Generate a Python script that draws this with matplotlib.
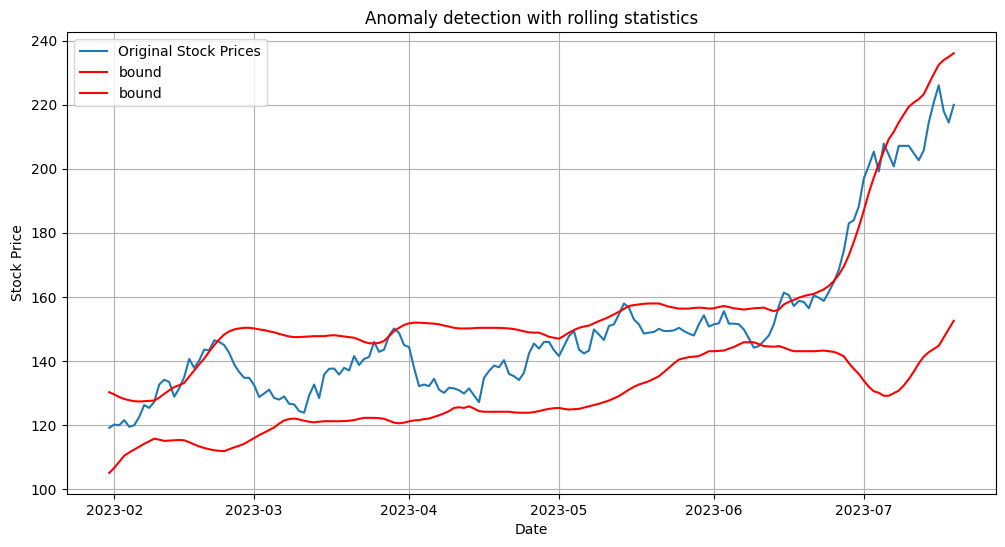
import matplotlib
matplotlib.use("Agg")
import matplotlib.pyplot as plt
import pandas as pd

# daily closing prices, 2023-01-31 .. 2023-07-19
start_date = "2023-01-31"

prices = [
    119.2, 120.2, 120.0, 121.6, 119.5, 120.0, 122.6, 126.3, 125.4, 127.3,
    132.7, 134.2, 133.5, 128.9, 131.5, 135.0, 140.7, 137.9, 140.2, 143.6,
    143.4, 146.5, 146.0, 145.0, 142.6, 139.0, 136.6, 134.8, 134.8, 132.5,
    128.8, 129.9, 131.1, 128.5, 128.0, 129.0, 126.7, 126.5, 124.4, 123.9,
    129.3, 132.7, 128.5, 135.8, 137.6, 137.7, 135.8, 137.9, 137.1, 141.6,
    138.8, 140.7, 141.3, 146.0, 142.9, 143.6, 148.0, 150.2, 148.8, 145.0,
    144.4, 137.9, 132.2, 132.7, 132.2, 134.5, 131.1, 130.1, 131.7, 131.5,
    130.9, 129.9, 131.5, 129.3, 127.2, 134.8, 136.9, 138.6, 138.1, 140.3,
    136.0, 135.3, 134.1, 136.4, 142.4, 145.5, 143.9, 146.0, 146.0, 143.4,
    141.6, 144.7, 147.8, 149.4, 143.6, 142.4, 143.3, 149.9, 148.3, 146.6,
    151.0, 151.5, 154.6, 158.0, 156.7, 153.0, 151.5, 148.6, 148.9, 149.1,
    150.1, 149.4, 149.4, 149.6, 150.4, 149.4, 148.6, 148.0, 151.5, 154.3,
    150.8, 151.5, 151.8, 155.6, 151.7, 151.7, 151.5, 149.9, 147.1, 144.2,
    144.7, 146.3, 148.0, 151.5, 157.2, 161.4, 160.6, 157.2, 158.8, 158.5,
    156.5, 160.6, 159.8, 158.8, 161.6, 164.7, 168.5, 174.4, 183.0, 184.0,
    188.3, 197.0, 201.0, 205.4, 199.2, 207.9, 204.4, 200.8, 207.2, 207.2,
    207.2, 204.9, 202.7, 205.8, 214.5, 220.7, 226.1, 218.0, 214.5, 220.0,
]

upper_bound = [
    130.3, 129.6, 128.8, 128.2, 127.8, 127.5, 127.4, 127.5, 127.6, 127.7,
    128.6, 129.8, 130.9, 131.9, 132.5, 133.2, 135.2, 137.1, 139.0, 140.8,
    143.0, 145.0, 146.8, 148.3, 149.3, 149.9, 150.2, 150.4, 150.4, 150.2,
    149.9, 149.7, 149.3, 149.0, 148.5, 148.1, 147.7, 147.5, 147.5, 147.6,
    147.7, 147.8, 147.8, 147.8, 148.0, 148.1, 147.9, 147.7, 147.5, 147.3,
    146.7, 146.0, 145.6, 145.5, 145.7, 146.3, 147.8, 149.4, 150.4, 151.3,
    151.8, 152.0, 152.0, 151.9, 151.8, 151.7, 151.5, 151.1, 150.8, 150.4,
    150.2, 150.2, 150.2, 150.3, 150.4, 150.4, 150.4, 150.4, 150.4, 150.3,
    150.2, 150.0, 149.7, 149.3, 149.0, 148.9, 148.9, 148.3, 147.6, 147.3,
    147.0, 147.9, 148.9, 149.7, 150.4, 150.8, 151.1, 151.8, 152.5, 153.1,
    153.8, 154.6, 155.4, 156.3, 157.2, 157.5, 157.7, 157.9, 158.0, 158.0,
    158.0, 157.5, 157.0, 156.7, 156.4, 156.4, 156.4, 156.6, 156.7, 156.6,
    156.4, 156.5, 156.9, 157.2, 156.9, 156.5, 156.3, 156.1, 156.3, 156.5,
    156.6, 156.7, 156.1, 155.6, 156.1, 157.7, 158.5, 159.1, 159.8, 160.3,
    160.7, 161.0, 161.7, 162.4, 163.5, 165.0, 167.0, 169.5, 173.0, 177.2,
    181.8, 187.0, 192.5, 197.3, 201.5, 205.5, 209.3, 211.6, 214.5, 217.0,
    219.4, 220.7, 221.8, 223.3, 226.5, 229.6, 232.5, 234.0, 235.0, 236.1,
]

lower_bound = [
    105.1, 106.7, 108.6, 110.5, 111.5, 112.4, 113.3, 114.2, 115.0, 115.8,
    115.5, 115.1, 115.2, 115.3, 115.4, 115.3, 114.7, 114.0, 113.4, 112.9,
    112.5, 112.2, 112.0, 111.9, 112.5, 113.1, 113.6, 114.2, 115.1, 116.0,
    116.9, 117.7, 118.5, 119.3, 120.5, 121.5, 121.9, 122.1, 121.8, 121.4,
    121.1, 120.9, 121.1, 121.25, 121.25, 121.25, 121.25, 121.3, 121.4, 121.6,
    122.0, 122.3, 122.3, 122.3, 122.2, 122.0, 121.4, 120.8, 120.6, 120.8,
    121.2, 121.5, 121.6, 121.9, 122.1, 122.6, 123.1, 123.7, 124.4, 125.4,
    125.6, 125.4, 125.9, 125.2, 124.4, 124.2, 124.2, 124.2, 124.2, 124.2,
    124.2, 124.0, 123.9, 123.9, 123.9, 124.1, 124.4, 124.8, 125.1, 125.3,
    125.4, 125.1, 124.9, 125.0, 125.1, 125.5, 125.9, 126.3, 126.7, 127.2,
    127.7, 128.4, 129.1, 130.1, 131.1, 132.0, 132.7, 133.2, 133.75, 134.5,
    135.3, 136.6, 137.9, 139.3, 140.5, 140.9, 141.25, 141.4, 141.6, 142.3,
    143.1, 143.1, 143.2, 143.3, 143.9, 144.4, 145.2, 145.9, 145.9, 145.9,
    145.3, 144.7, 144.6, 144.5, 144.7, 144.2, 143.6, 143.1, 143.1, 143.1,
    143.1, 143.1, 143.2, 143.3, 143.1, 142.9, 142.3, 141.5, 139.4, 137.6,
    136.0, 133.9, 132.0, 130.6, 130.1, 129.2, 129.2, 130.0, 130.8, 132.4,
    134.4, 136.7, 139.3, 141.4, 142.8, 143.8, 144.8, 147.4, 150.0, 152.6,
]

dates = pd.date_range(start_date, periods=len(prices), freq="D")

fig, ax = plt.subplots(figsize=(10.05, 5.47), dpi=100)
fig.subplots_adjust(left=0.0667, right=0.991, top=0.941, bottom=0.097)

ax.plot(dates, prices, label="Original Stock Prices")
ax.plot(dates, upper_bound, color="red", label="bound")
ax.plot(dates, lower_bound, color="red", label="bound")

ax.set_title("Anomaly detection with rolling statistics")
ax.set_xlabel("Date")
ax.set_ylabel("Stock Price")
ax.legend(loc="upper left")
ax.grid(True)

fig.savefig("out.png", dpi=100)
